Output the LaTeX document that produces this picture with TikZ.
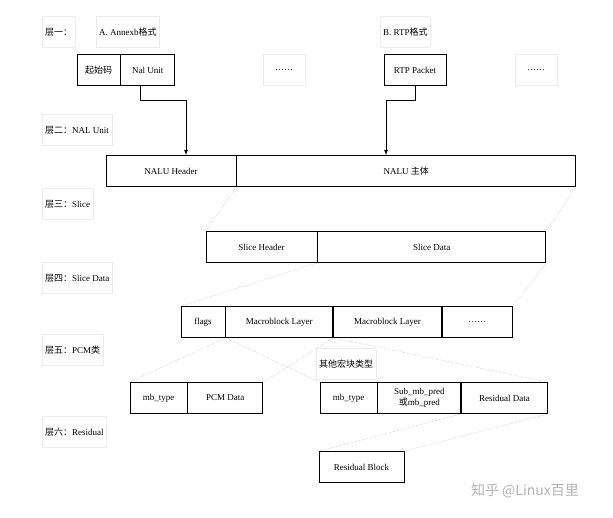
\documentclass[tikz,border=0pt]{standalone}
\usepackage{fontspec}
\setmainfont{Liberation Serif}
\newfontfamily\cjk{Noto Sans CJK SC}
\usetikzlibrary{positioning}
\begin{document}
\begin{tikzpicture}[x=1pt,y=-1pt,
    font=\fontsize{9}{11}\selectfont,
    box/.style={draw, thick, minimum height=31pt, inner sep=1pt},
    tag/.style={draw=gray!15, minimum height=31pt, inner sep=3pt, anchor=west},
    dots/.style={densely dotted, gray!70},
    link/.style={thick, -latex}]
    \useasboundingbox (0,0) rectangle (613,517);

    % layer labels
    \node[tag] (l1) at (42,32) {{\cjk 层一：}};
    \node[tag] (l2) at (42,130) {{\cjk 层二：}NAL Unit};
    \node[tag] (l3) at (42,204) {{\cjk 层三：}Slice};
    \node[tag] (l4) at (42,278) {{\cjk 层四：}Slice Data};
    \node[tag] (l5) at (42,350) {{\cjk 层五：}PCM{\cjk 类}};
    \node[tag] (l6) at (42,432) {{\cjk 层六：}Residual};

    % layer one
    \node[tag] (annexb) at (96,32) {A. Annexb{\cjk 格式}};
    \node[tag] (rtp) at (380,32) {B. RTP{\cjk 格式}};
    \node[box, minimum width=43pt] (start) at (98.5,70) {{\cjk 起始码}};
    \node[box, minimum width=54pt, right=0pt of start] (nalunit) {Nal Unit};
    \node[tag, minimum width=42pt, anchor=center] (more1) at (284,70) {\dots\dots};
    \node[box, minimum width=62pt] (rtppkt) at (415,70) {RTP Packet};
    \node[tag, minimum width=42pt, anchor=center] (more2) at (536,70) {\dots\dots};

    % layer two
    \node[box, minimum width=130pt] (header) at (171,171) {NALU Header};
    \node[box, minimum width=339pt, right=0pt of header] (body) {NALU {\cjk 主体}};
    \coordinate (a1) at (186,100);
    \coordinate (a2) at (386,100);
    \draw[link] (nalunit.south -| 140,0) |- (a1) -- (a1 |- header.north);
    \draw[link] (rtppkt.south) |- (a2) -- (a2 |- body.north);

    % layer three
    \node[box, minimum width=111pt] (sheader) at (261.5,247) {Slice Header};
    \node[box, minimum width=228pt, right=0pt of sheader] (sdata) {Slice Data};
    \draw[dots] (body.south west) -- (sheader.north west);
    \draw[dots] (body.south east) -- (sdata.north east);

    % layer four
    \node[box, minimum width=44pt] (flags) at (203,322) {flags};
    \node[box, minimum width=107pt, right=0pt of flags] (mb1) {Macroblock Layer};
    \node[box, minimum width=108pt, right=0pt of mb1] (mb2) {Macroblock Layer};
    \node[box, minimum width=70pt, right=0pt of mb2] (more3) {\dots\dots};
    \draw[dots] (sdata.south west) -- (flags.north west);
    \draw[dots] (sdata.south east) -- (more3.north east);

    % layer five
    \node[box, minimum width=57pt] (pcmtype) at (158.5,398) {mb\_type};
    \node[box, minimum width=75pt, right=0pt of pcmtype] (pcmdata) {PCM Data};
    \node[box, minimum width=57pt] (mbtype) at (348.5,398) {mb\_type};
    \node[box, minimum width=83pt, right=0pt of mbtype, align=center] (pred) {Sub\_mb\_pred\\{\cjk 或}mb\_pred};
    \node[box, minimum width=86pt, right=0pt of pred] (resdata) {Residual Data};
    \node[tag, anchor=center] (other) at (346,364) {{\cjk 其他宏块类型}};
    \draw[dots] (mb1.south west) -- (pcmtype.north west);
    \draw[dots] (mb1.south west) -- (mbtype.north west);
    \draw[dots] (mb1.south east) -- (pcmdata.north east);
    \draw[dots] (mb1.south east) -- (resdata.north east);

    % layer six
    \node[box, minimum width=85pt] (resblock) at (361.5,467) {Residual Block};
    \draw[dots] (resdata.south west) -- (resblock.north west);
    \draw[dots] (resdata.south east) -- (resblock.north east);

    \node[gray!60, font=\fontsize{14}{16}\selectfont] (mark) at (525,491) {{\cjk 知乎 @Linux百里}};
\end{tikzpicture}
\end{document}
